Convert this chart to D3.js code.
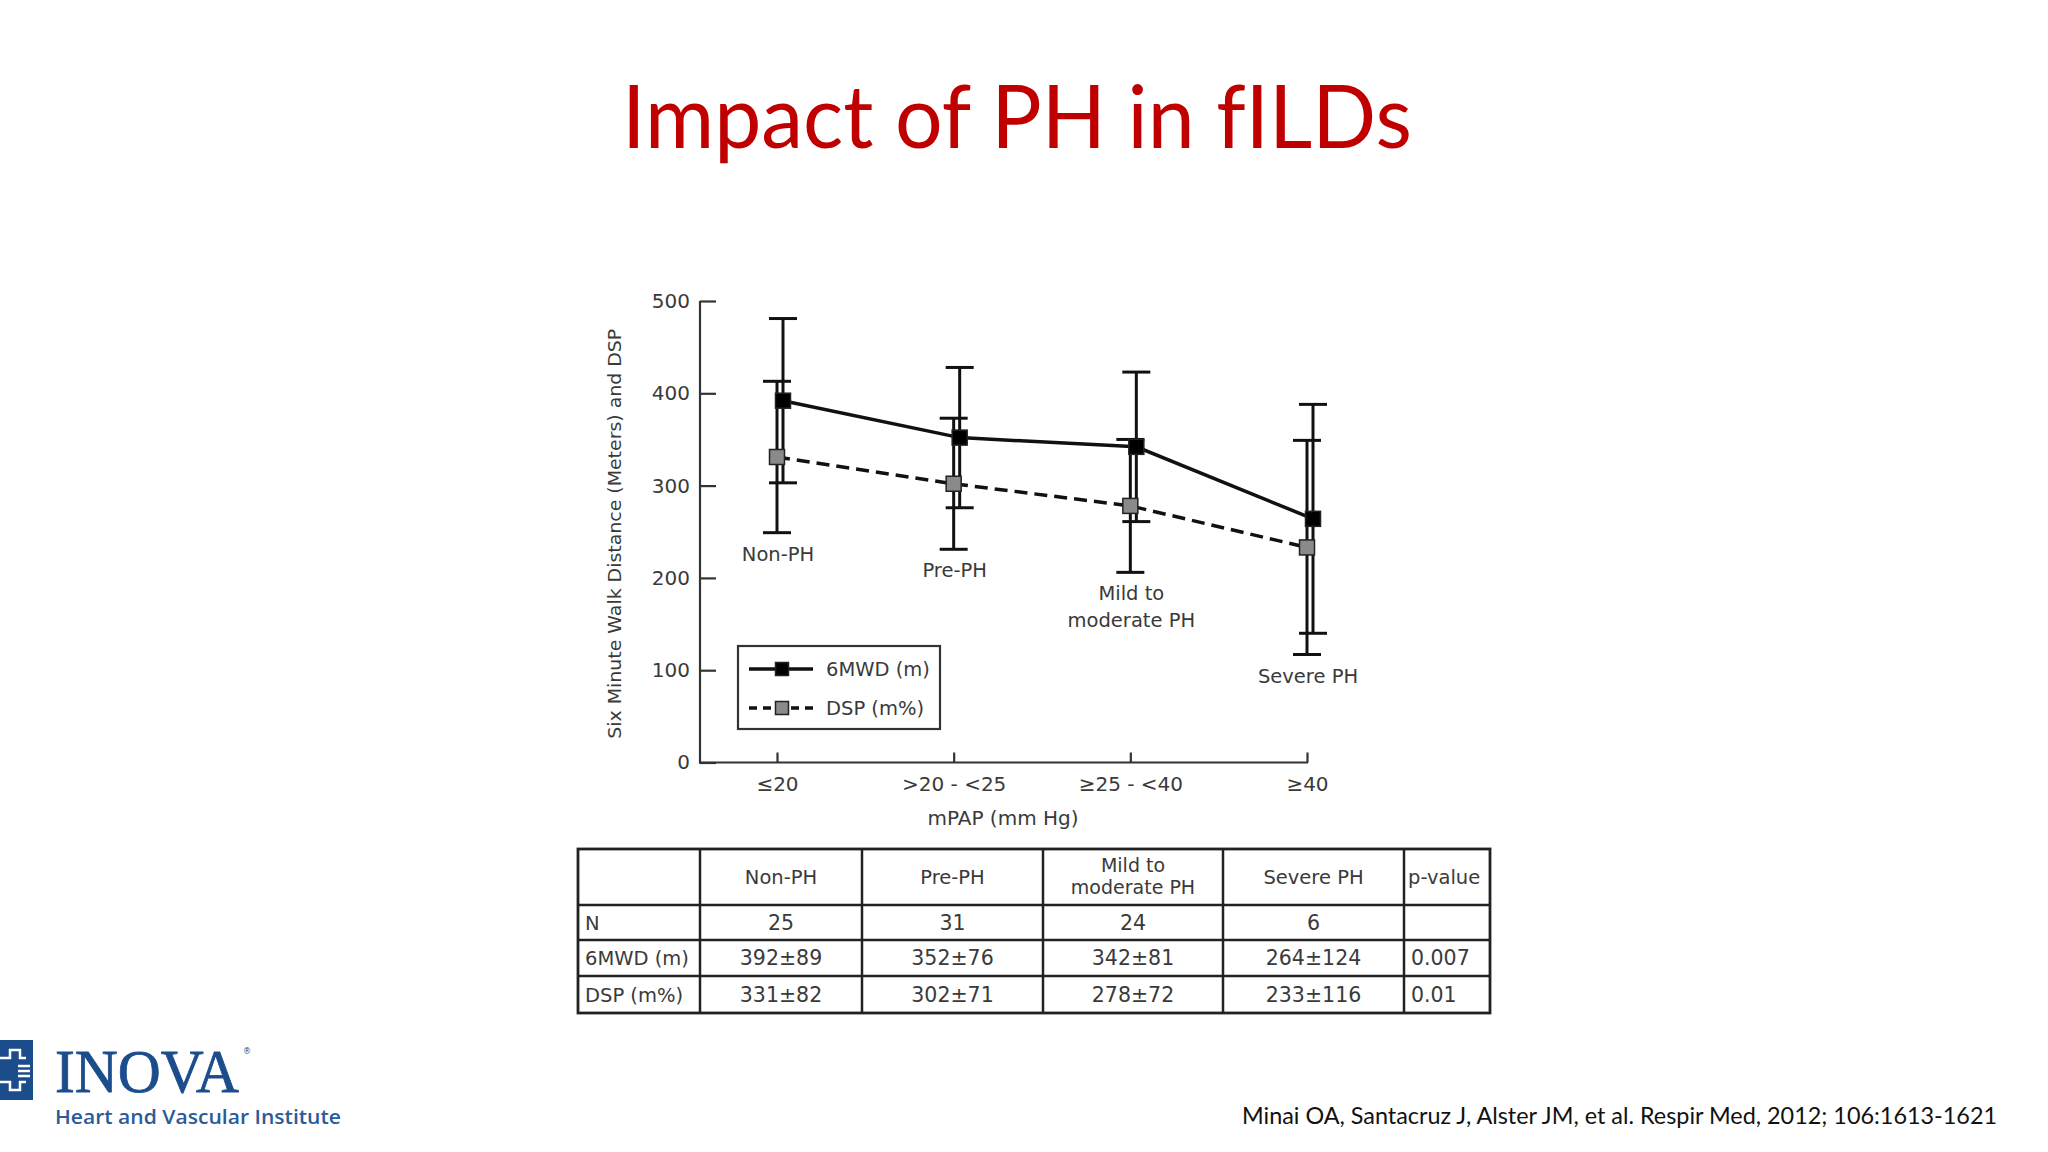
<!DOCTYPE html>
<html>
<head>
<meta charset="utf-8">
<script src="https://cdn.jsdelivr.net/npm/d3@7"></script>
<style>
  body { margin:0; background:#fff; }
  svg { display:block; }
</style>
</head>
<body>
<div id="Graph"></div>
<script>
// data (Minai et al. 2012)
const mpapTicks = ["\u226420", ">20 - <25", "\u226525 - <40", "\u226540"];
const groupLines = [["Non-PH"], ["Pre-PH"], ["Mild to", "moderate PH"], ["Severe PH"]];
const nValues = [25, 31, 24, 6];
const mwdMean = [392, 352, 342, 264];
const mwdSD = [89, 76, 81, 124];
const dspMean = [331, 302, 278, 233];
const dspSD = [82, 71, 72, 116];
const pValues = ["0.007", "0.01"];
const yTicks = [0, 100, 200, 300, 400, 500];
const seriesNames = ["6MWD (m)", "DSP (m%)"];

const width = 2048, height = 1152;
const font = "'DejaVu Sans', sans-serif";
const ink = "#3a3a3a";

const svg = d3.select("#Graph").append("svg")
  .attr("width", width)
  .attr("height", height);

svg.append("rect").attr("width", width).attr("height", height).attr("fill", "#fff");

// title
svg.append("text")
  .attr("x", 1017).attr("y", 148)
  .attr("text-anchor", "middle")
  .attr("font-family", "Lato, sans-serif")
  .attr("font-size", 88)
  .attr("fill", "#c00000")
  .attr("textLength", 790)
  .attr("lengthAdjust", "spacingAndGlyphs")
  .text("Impact of PH in fILDs");

// scales
const x = d3.scalePoint().domain(mpapTicks).range([777, 1307]);
const y = d3.scaleLinear().domain([0, 500]).range([762.5, 301]);
const x0 = 700;

const g = svg.append("g");

// y axis
const yAxis = g.append("g")
  .attr("transform", `translate(${x0},0)`)
  .call(d3.axisLeft(y).tickValues(yTicks).tickSizeInner(-16).tickSizeOuter(0).tickPadding(10));
yAxis.select(".domain").remove();
yAxis.selectAll("line").attr("stroke", "#333").attr("stroke-width", 2.2);
yAxis.selectAll("text").attr("font-family", font).attr("font-size", 20).attr("fill", ink);
g.append("line")
  .attr("x1", x0).attr("x2", x0)
  .attr("y1", y(0) + 1).attr("y2", y(500))
  .attr("stroke", "#333").attr("stroke-width", 2.2);

// x axis
const xAxis = g.append("g")
  .attr("transform", `translate(0,${y(0)})`)
  .call(d3.axisBottom(x).tickSizeInner(-10).tickSizeOuter(0).tickPadding(14));
xAxis.select(".domain").remove();
xAxis.selectAll("line").attr("stroke", "#333").attr("stroke-width", 2.2);
xAxis.selectAll("text").attr("font-family", font).attr("font-size", 20).attr("fill", ink);
g.append("line")
  .attr("x1", x0 - 1).attr("x2", x.range()[1] + 1)
  .attr("y1", y(0)).attr("y2", y(0))
  .attr("stroke", "#333").attr("stroke-width", 2.2);

// axis titles
g.append("text")
  .attr("transform", `translate(621,${(y(0) + y(500)) / 2 + 2}) rotate(-90)`)
  .attr("text-anchor", "middle")
  .attr("font-family", font).attr("font-size", 18.5).attr("fill", ink)
  .attr("textLength", 410).attr("lengthAdjust", "spacingAndGlyphs")
  .text("Six Minute Walk Distance (Meters) and DSP");

g.append("text")
  .attr("x", 1003).attr("y", 825)
  .attr("text-anchor", "middle")
  .attr("font-family", font).attr("font-size", 20).attr("fill", ink)
  .text("mPAP (mm Hg)");

// series
const series = [
  {name: seriesNames[0], mean: mwdMean, sd: mwdSD, dx: 6, fill: "#000", dash: null},
  {name: seriesNames[1], mean: dspMean, sd: dspSD, dx: 0, fill: "#8a8a8a", dash: "13,7"}
];

const line = d3.line().x(d => d[0]).y(d => d[1]);

series.slice().reverse().forEach(s => {
  const pts = mpapTicks.map((c, i) => [x(c) + s.dx, y(s.mean[i])]);
  g.append("path")
    .attr("d", line(pts))
    .attr("fill", "none")
    .attr("stroke", "#111")
    .attr("stroke-width", 3.5)
    .attr("stroke-dasharray", s.dash);
});

// error bars
series.forEach(s => {
  const eb = g.append("g");
  mpapTicks.forEach((c, i) => {
    const cx = x(c) + s.dx;
    const hi = y(s.mean[i] + s.sd[i]);
    const lo = y(s.mean[i] - s.sd[i]);
    eb.append("line").attr("x1", cx).attr("x2", cx).attr("y1", hi).attr("y2", lo)
      .attr("stroke", "#111").attr("stroke-width", 3);
    [hi, lo].forEach(yy => {
      eb.append("line").attr("x1", cx - 14).attr("x2", cx + 14).attr("y1", yy).attr("y2", yy)
        .attr("stroke", "#111").attr("stroke-width", 3);
    });
  });
});

// markers
series.forEach(s => {
  g.append("g").selectAll("rect")
    .data(mpapTicks)
    .enter().append("rect")
    .attr("x", (c) => x(c) + s.dx - 7.5)
    .attr("y", (c, i) => y(s.mean[i]) - 7.5)
    .attr("width", 15).attr("height", 15)
    .attr("fill", s.fill)
    .attr("stroke", "#222").attr("stroke-width", 1.5);
});

// group labels under the lowest error bar
mpapTicks.forEach((c, i) => {
  const low = Math.min(mwdMean[i] - mwdSD[i], dspMean[i] - dspSD[i]);
  const t = g.append("text")
    .attr("x", x(c) + 1)
    .attr("y", y(low) + 28)
    .attr("text-anchor", "middle")
    .attr("font-family", font).attr("font-size", 19.5).attr("fill", ink);
  groupLines[i].forEach((l, k) => {
    t.append("tspan").attr("x", x(c) + 1).attr("dy", k === 0 ? 0 : 27).text(l);
  });
});

// legend
const leg = g.append("g").attr("transform", "translate(738,646)");
leg.append("rect").attr("width", 202).attr("height", 83)
  .attr("fill", "#fff").attr("stroke", "#333").attr("stroke-width", 2.2);
series.forEach((s, i) => {
  const ly = 23 + i * 39;
  leg.append("line").attr("x1", 11).attr("x2", 75).attr("y1", ly).attr("y2", ly)
    .attr("stroke", "#111").attr("stroke-width", 3.5)
    .attr("stroke-dasharray", s.dash ? "8,6" : null);
  leg.append("rect").attr("x", 44 - 6.5).attr("y", ly - 6.5).attr("width", 13).attr("height", 13)
    .attr("fill", s.fill).attr("stroke", "#222").attr("stroke-width", 1.5);
  leg.append("text").attr("x", 88).attr("y", ly + 7)
    .attr("font-family", font).attr("font-size", 19.5).attr("fill", ink)
    .text(s.name);
});

// table under the chart
const colX = [578, 700, 862, 1043, 1223, 1404, 1490];
const rowY = [849, 905, 940, 976, 1013];
const header = [[""], ...groupLines, ["p-value"]];
const rows = [
  ["N", ...nValues.map(String), ""],
  ["6MWD (m)", ...mwdMean.map((m, i) => `${m}\u00b1${mwdSD[i]}`), pValues[0]],
  ["DSP (m%)", ...dspMean.map((m, i) => `${m}\u00b1${dspSD[i]}`), pValues[1]]
];

const tb = svg.append("g");
tb.append("rect")
  .attr("x", colX[0]).attr("y", rowY[0])
  .attr("width", colX[6] - colX[0]).attr("height", rowY[4] - rowY[0])
  .attr("fill", "none").attr("stroke", "#222").attr("stroke-width", 2.8);
colX.slice(1, -1).forEach(cx => {
  tb.append("line").attr("x1", cx).attr("x2", cx).attr("y1", rowY[0]).attr("y2", rowY[4])
    .attr("stroke", "#222").attr("stroke-width", 2.5);
});
rowY.slice(1, -1).forEach(ry => {
  tb.append("line").attr("x1", colX[0]).attr("x2", colX[6]).attr("y1", ry).attr("y2", ry)
    .attr("stroke", "#222").attr("stroke-width", 2.5);
});

function cellText(txt, col, yMid) {
  const leftAlign = col === 0 || col === 5;
  tb.append("text")
    .attr("x", leftAlign ? colX[col] + 7 : (colX[col] + colX[col + 1]) / 2)
    .attr("y", yMid + 7)
    .attr("text-anchor", leftAlign ? "start" : "middle")
    .attr("font-family", font).attr("font-size", col === 0 ? 19.5 : 20.5).attr("fill", ink)
    .text(txt);
}

header.forEach((lines, col) => {
  const mid = (rowY[0] + rowY[1]) / 2;
  if (lines.length === 2) {
    tb.append("text")
      .attr("x", (colX[col] + colX[col + 1]) / 2).attr("y", mid - 5)
      .attr("text-anchor", "middle")
      .attr("font-family", font).attr("font-size", 19).attr("fill", ink)
      .selectAll("tspan").data(lines).enter().append("tspan")
      .attr("x", (colX[col] + colX[col + 1]) / 2)
      .attr("dy", (d, k) => k === 0 ? 0 : 22)
      .text(d => d);
  } else {
    tb.append("text")
      .attr("x", col === 5 ? colX[col] + 4 : (colX[col] + colX[col + 1]) / 2)
      .attr("y", mid + 7)
      .attr("text-anchor", col === 5 ? "start" : "middle")
      .attr("font-family", font).attr("font-size", 19.5).attr("fill", ink)
      .text(lines[0]);
  }
});
rows.forEach((r, ri) => {
  const mid = (rowY[ri + 1] + rowY[ri + 2]) / 2;
  r.forEach((txt, col) => cellText(txt, col, mid));
});

// logo
const logo = svg.append("g");
logo.append("rect").attr("x", -2).attr("y", 1040).attr("width", 35).attr("height", 60).attr("fill", "#1b4d8c");
logo.append("path")
  .attr("d", "M0,1058 H10 V1050 H20 V1058 H26 M0,1082 H10 V1090 H20 V1082 H26 M18,1066 H30 M18,1071 H30 M18,1076 H30")
  .attr("fill", "none").attr("stroke", "#fff").attr("stroke-width", 2.5);
logo.append("text")
  .attr("x", 55).attr("y", 1092)
  .attr("font-family", "'Liberation Serif', serif")
  .attr("font-size", 62).attr("fill", "#1b4d8c")
  .attr("stroke", "#1b4d8c").attr("stroke-width", 0.8)
  .attr("textLength", 184).attr("lengthAdjust", "spacingAndGlyphs")
  .text("INOVA");
logo.append("text")
  .attr("x", 243).attr("y", 1054)
  .attr("font-family", "'DejaVu Sans', sans-serif")
  .attr("font-size", 8).attr("fill", "#1b4d8c")
  .text("\u00ae");
logo.append("text")
  .attr("x", 55).attr("y", 1124)
  .attr("font-family", "'Open Sans', sans-serif").attr("font-weight", 600)
  .attr("font-size", 20).attr("fill", "#2b5b98")
  .attr("textLength", 286).attr("lengthAdjust", "spacingAndGlyphs")
  .text("Heart and Vascular Institute");

// citation
svg.append("text")
  .attr("x", 1242).attr("y", 1124)
  .attr("font-family", "Lato, sans-serif")
  .attr("font-size", 23).attr("fill", "#111")
  .attr("textLength", 755).attr("lengthAdjust", "spacingAndGlyphs")
  .text("Minai OA, Santacruz J, Alster JM, et al. Respir Med, 2012; 106:1613-1621");
</script>
</body>
</html>
